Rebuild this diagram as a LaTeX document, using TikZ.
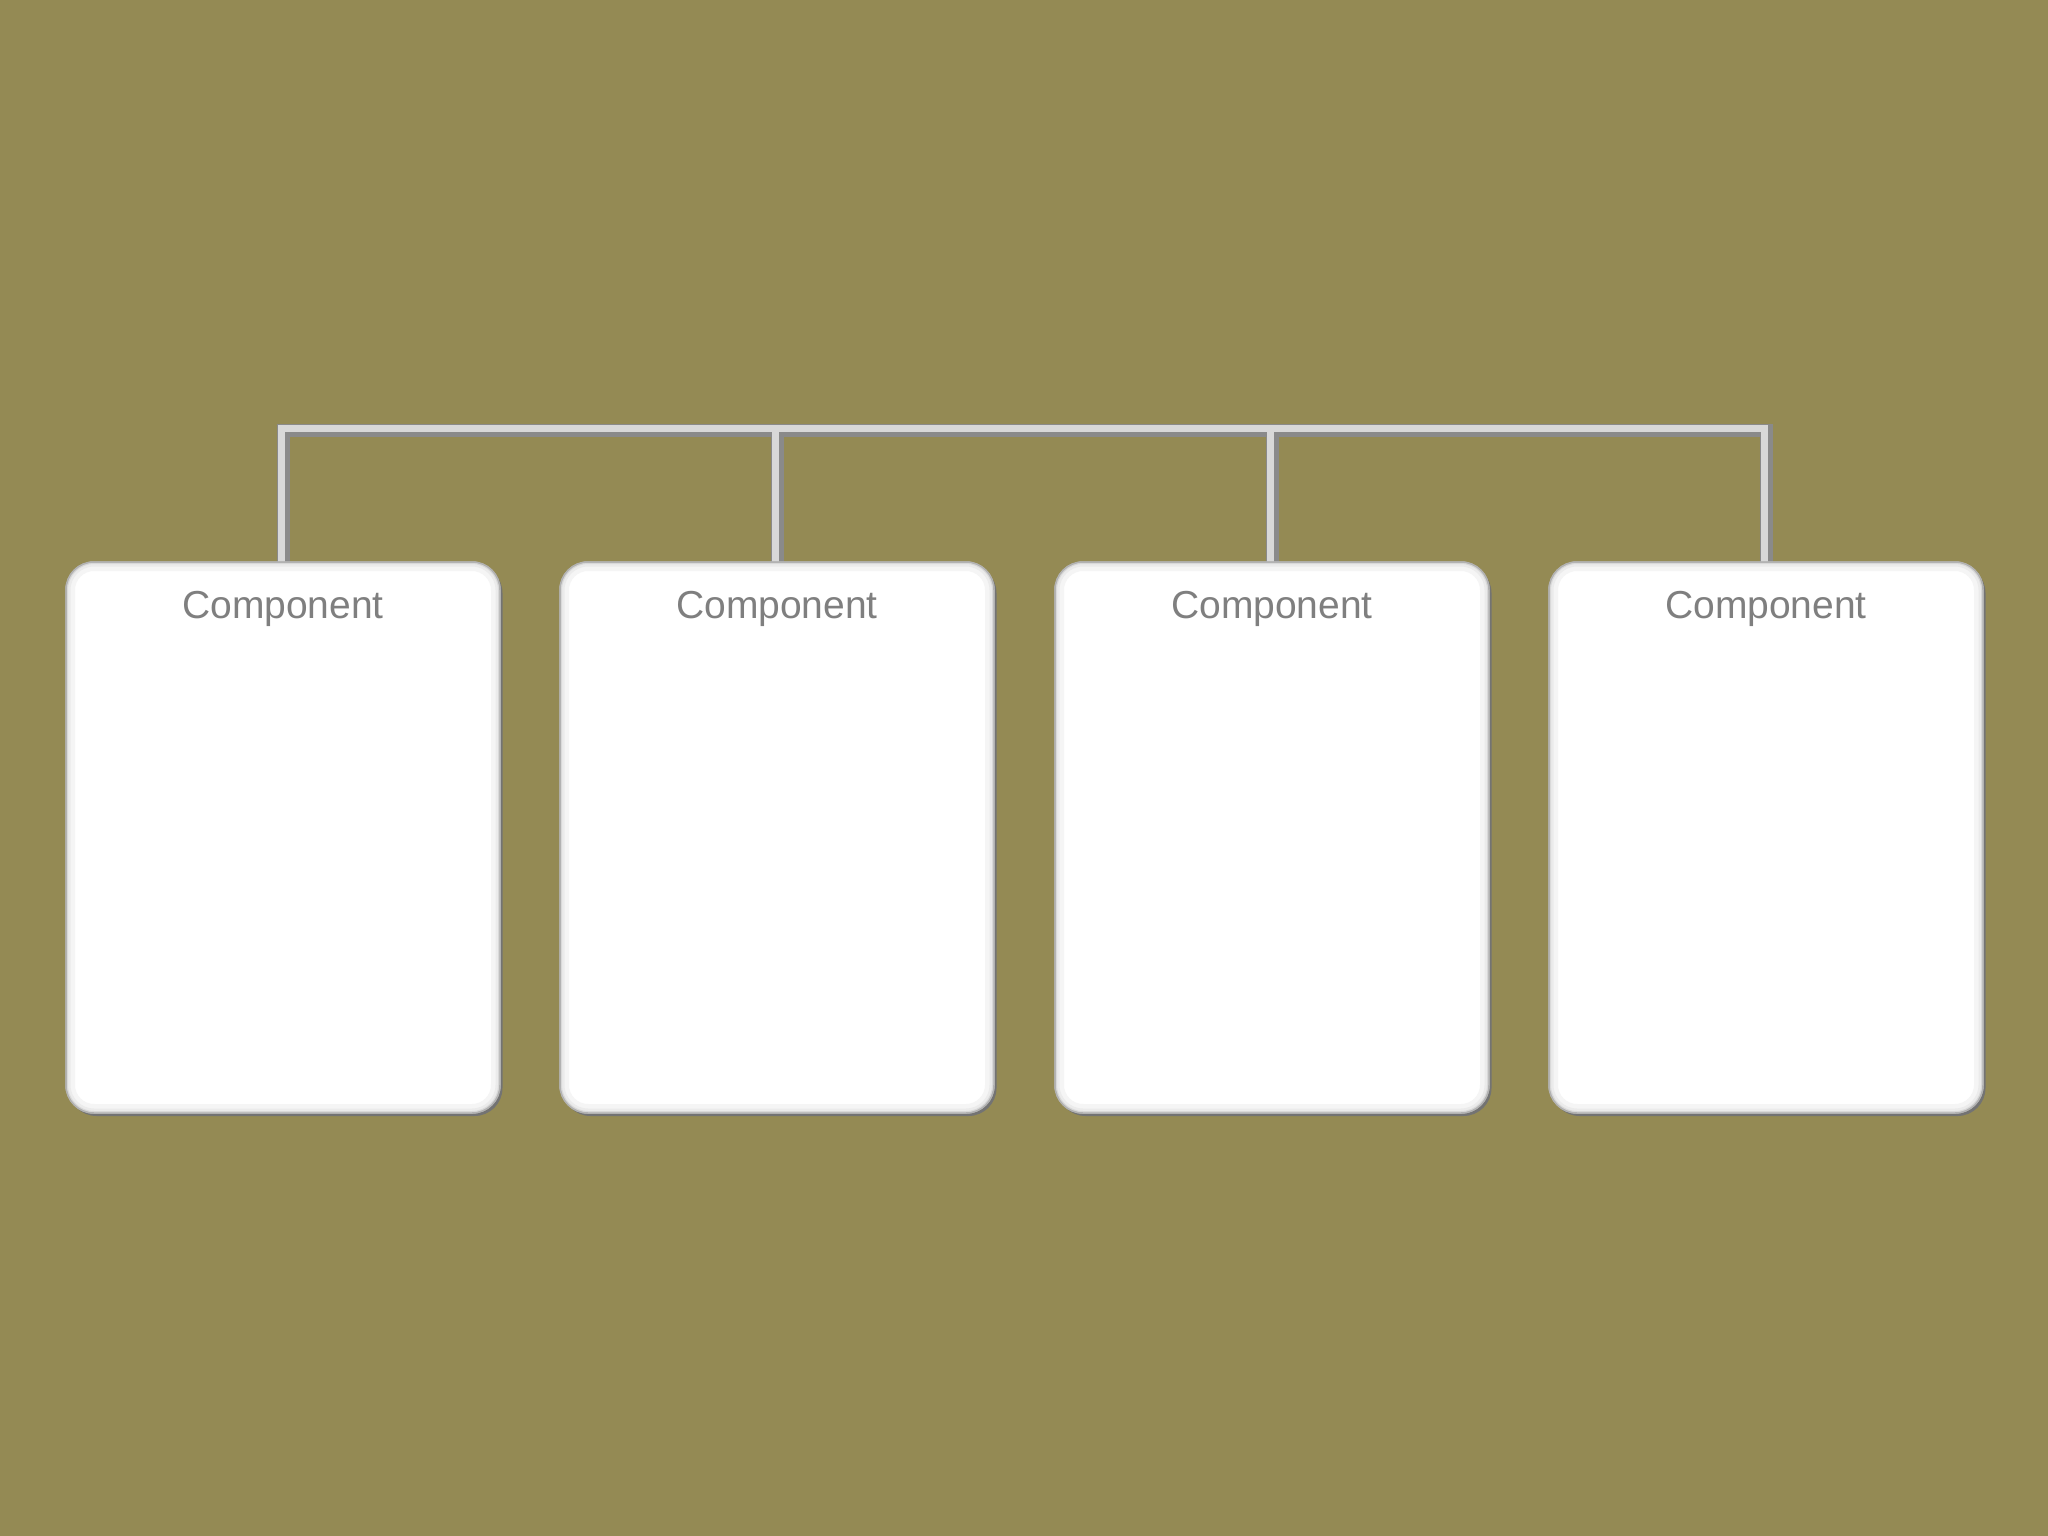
\documentclass[tikz,border=0pt]{standalone}
\usepackage{fontspec}
\setmainfont{Liberation Sans}
\definecolor{olivebg}{HTML}{948A54}
\definecolor{lbltext}{HTML}{7F7F7F}
\definecolor{tubedark}{HTML}{8A8A8A}
\definecolor{tubelight}{HTML}{D8D8D8}
\begin{document}
\begin{tikzpicture}[x=1pt,y=-1pt,
  box/.style={minimum width=434pt,minimum height=551pt,inner sep=0pt,outer sep=0pt,
    rounded corners=28pt,fill=white,draw=gray!55,line width=1.5pt},
  boxshadow/.style={minimum width=434pt,minimum height=551pt,inner sep=0pt,
    rounded corners=28pt,fill=black!55},
  lbl/.style={font=\fontsize{39pt}{45pt}\selectfont,text=lbltext,inner sep=0pt},
  tubeouter/.style={draw=tubedark,line width=13pt},
  tubeinner/.style={draw=tubelight,line width=7pt}]
\useasboundingbox (0,0) rectangle (2048,1536);
\fill[olivebg] (0,0) rectangle (2048,1536);

% connector anchor
\coordinate (bar) at (1024,430);

\foreach \i/\x in {1/283,2/777,3/1272,4/1766}{
  \coordinate (top\i) at (\x,562);
}
% tubes
\draw[tubeouter,line join=miter] (top1) |- (bar) -| (top4);
\draw[tubeouter] (top2) -- (top2 |- bar);
\draw[tubeouter] (top3) -- (top3 |- bar);
\draw[tubeinner,line join=miter] ([xshift=-1.5pt]top1) |- ([yshift=1.5pt]bar) -| ([xshift=-1.5pt]top4);
\draw[tubeinner] ([xshift=-1.5pt]top2) -- ([xshift=-1.5pt]top2 |- bar);
\draw[tubeinner] ([xshift=-1.5pt]top3) -- ([xshift=-1.5pt]top3 |- bar);

\foreach \i/\x in {1/283,2/777,3/1272,4/1766}{
  \node[boxshadow] (s\i) at (\x+2.5,840.5) {};
  \node[box] (b\i) at (\x,837.5) {};
  % inner bevel
  \begin{scope}
    \clip[rounded corners=28pt] (b\i.south west) rectangle (b\i.north east);
    \draw[gray!8,line width=18pt,rounded corners=28pt] (b\i.south west) rectangle (b\i.north east);
    \draw[gray!16,line width=9pt,rounded corners=28pt] (b\i.south west) rectangle (b\i.north east);
    \draw[gray!30,line width=4pt,rounded corners=28pt] (b\i.south west) rectangle (b\i.north east);
  \end{scope}
  \draw[gray!60,line width=1.5pt,rounded corners=28pt] (b\i.south west) rectangle (b\i.north east);
  \node[lbl,anchor=base] (l\i) at ([yshift=-56pt]b\i.north) {Component};
}
\end{tikzpicture}
\end{document}
